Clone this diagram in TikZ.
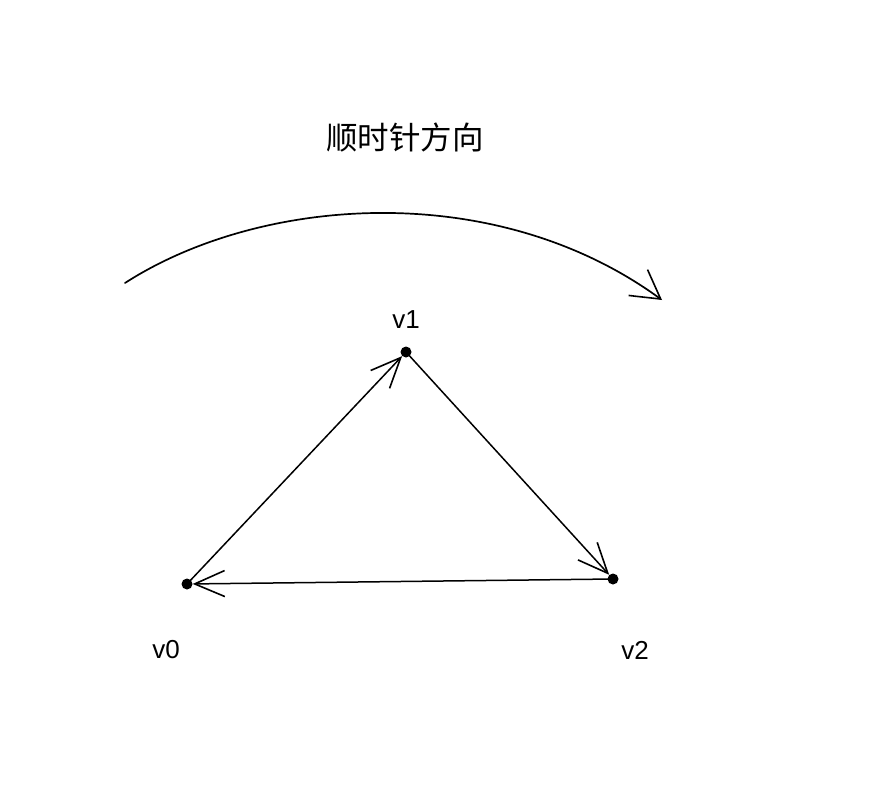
\documentclass[tikz,border=0pt]{standalone}
\usepackage{fontspec}
\setmainfont{Liberation Sans}
\newfontfamily\cjk{Noto Sans CJK SC}
\usetikzlibrary{arrows.meta}
\begin{document}
\begin{tikzpicture}[x=1pt,y=-1pt,
  vdot/.style={circle,fill=black,inner sep=0pt,minimum size=11pt},
  vlabel/.style={font=\fontsize{26}{30}\selectfont},
  edge/.style={line width=1.5pt,-{Straight Barb[length=30pt,width=26pt,line width=1.6pt]}}]
\useasboundingbox (0,0) rectangle (874,792);
\node[font=\cjk\fontsize{31.5}{36}\selectfont] (title) at (405,137) {顺时针方向};
\node[vdot] (v0) at (187,584) {};
\node[vdot] (v1) at (406,352) {};
\node[vdot] (v2) at (613,579) {};
\node[vlabel] (l0) at (166,650) {v0};
\node[vlabel] (l1) at (406,320) {v1};
\node[vlabel] (l2) at (635,650) {v2};
\coordinate (as) at (125,283);
\coordinate (ae) at (662,300);
\draw[line width=1.7pt,line cap=round,-{Straight Barb[length=28pt,width=32pt,line width=1.6pt]}] (as) .. controls (260,196) and (495,178) .. (ae);
\draw[edge] (v0.center) -- (v1);
\draw[edge] (v1.center) -- (v2);
\draw[edge] (v2.center) -- (v0);
\end{tikzpicture}
\end{document}
